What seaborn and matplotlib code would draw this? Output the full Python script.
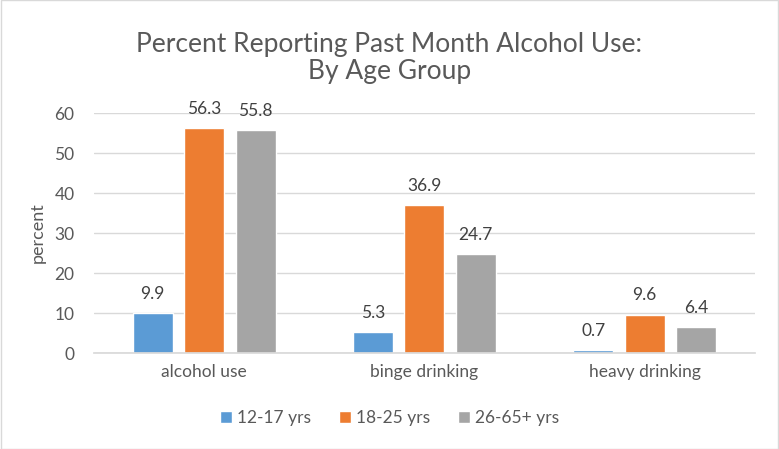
import pandas as pd
import numpy as np
import matplotlib
matplotlib.use("Agg")
import matplotlib.pyplot as plt
import seaborn as sns

# data
measures = ["alcohol use", "binge drinking", "heavy drinking"]
age_groups = ["12-17 yrs", "18-25 yrs", "26-65+ yrs"]
pct_12_17 = [9.9, 5.3, 0.7]
pct_18_25 = [56.3, 36.9, 9.6]
pct_26_65 = [55.8, 24.7, 6.4]

df = pd.DataFrame({
    "measure": measures * 3,
    "age": [age_groups[0]] * 3 + [age_groups[1]] * 3 + [age_groups[2]] * 3,
    "percent": pct_12_17 + pct_18_25 + pct_26_65,
})

sns.set_theme(style="white")
plt.rcParams["font.family"] = ["Lato", "DejaVu Sans"]
txt = "#595959"

fig = plt.figure(figsize=(7.79, 4.49), dpi=100)
ax = fig.add_axes([0.1207, 0.2138, 0.8483, 0.5345])

colors = ["#5B9BD5", "#ED7D31", "#A5A5A5"]
sns.barplot(data=df, x="measure", y="percent", hue="age", order=measures,
            hue_order=age_groups, palette=colors, width=0.7, gap=0.22,
            saturation=1, ax=ax, legend=True)

for cont in ax.containers:
    ax.bar_label(cont, fmt="%.1f", padding=8, fontsize=12.5, color="#404040")

ax.set_ylim(0, 60)
ax.set_xlim(-0.5, 2.5)
ax.set_yticks(range(0, 61, 10))
ax.yaxis.grid(True, color="#D9D9D9", linewidth=1)
ax.set_axisbelow(True)
for s in ["top", "right", "left"]:
    ax.spines[s].set_visible(False)
ax.spines["bottom"].set_color("#D9D9D9")
ax.tick_params(axis="both", length=0, labelsize=12.5, labelcolor=txt, pad=8)
ax.tick_params(axis="y", pad=14)
ax.set_xlabel("")
ax.set_ylabel("percent", fontsize=13, color=txt, labelpad=6)

fig.text(0.5, 0.87, "Percent Reporting Past Month Alcohol Use:\nBy Age Group",
         ha="center", va="center", fontsize=19, color=txt, linespacing=1.1)

handles, labels = ax.get_legend_handles_labels()
ax.legend_.remove()
fig.legend(handles, labels, loc="center", bbox_to_anchor=(0.5, 0.069), ncol=3,
           frameon=False, fontsize=12.5, labelcolor=txt, handlelength=0.7,
           handleheight=0.7, handletextpad=0.3, columnspacing=1.6)

fig.patches.append(plt.Rectangle((0.001, 0.001), 0.998, 0.998, transform=fig.transFigure,
                                 fill=False, edgecolor="#D9D9D9", linewidth=1))

fig.savefig("out.png", dpi=100)
